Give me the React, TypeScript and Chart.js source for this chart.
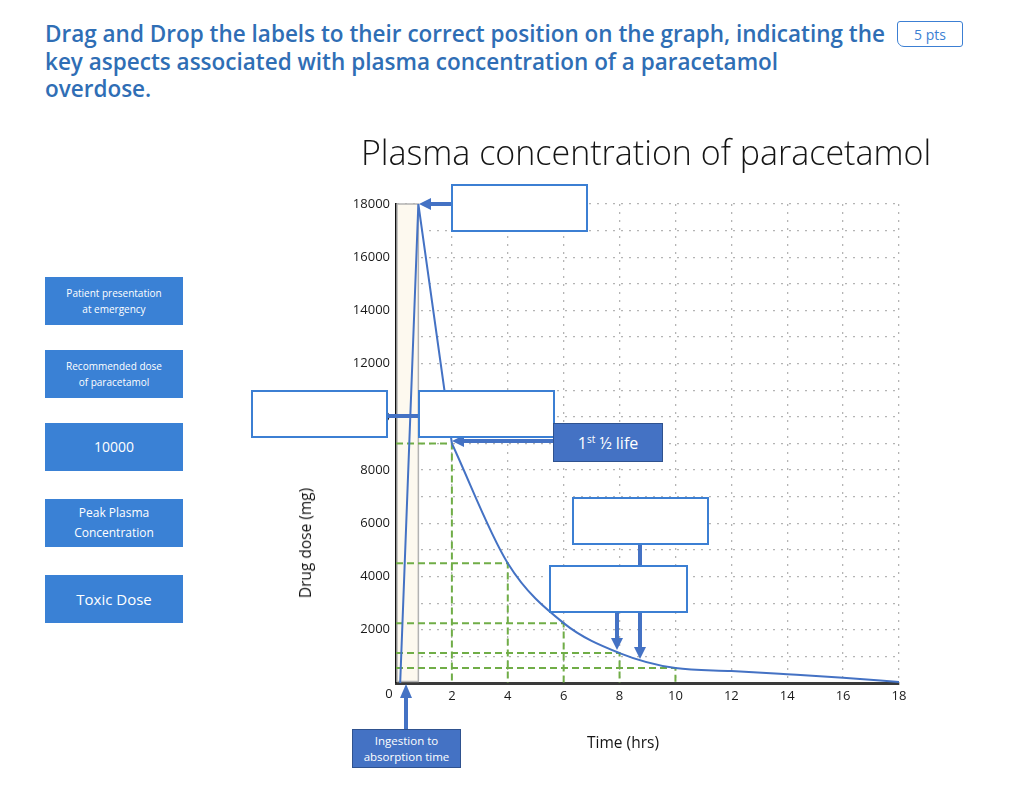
import React, { useEffect, useRef } from "react";
import { Chart, registerables } from "chart.js";

Chart.register(...registerables);

// ---------- data ----------
const chartTitle = "Plasma concentration of paracetamol";
const xAxisTitle = "Time (hrs)";
const yAxisTitle = "Drug dose (mg)";

const curveTimes = [0.15, 0.8, 2, 4, 6, 8, 10, 12, 14, 16, 18];
const curveDose = [0, 18000, 9000, 4500, 2250, 1125, 560, 450, 330, 200, 40];
const firstHalfLifeIndex = 2;

const halfLifeTimes = [2, 4, 6, 8, 10];
const halfLifeDose = [9000, 4500, 2250, 1125, 560];

const absorptionWindow = [0, 0.8];

const xTickStep = 2;
const yTickStep = 1000;
const yTickLabels = [2000, 4000, 6000, 8000, 10000, 12000, 14000, 16000, 18000];
const originLabel = "0";

const headerLines = [
  "Drag and Drop the labels to their correct position on the graph, indicating the",
  "key aspects associated with plasma concentration of a paracetamol",
  "overdose.",
];
const pointsLabel = "5 pts";
const answerLabels = [
  ["Patient presentation", "at emergency"],
  ["Recommended dose", "of paracetamol"],
  ["10000"],
  ["Peak Plasma", "Concentration"],
  ["Toxic Dose"],
];
const ingestionLabel = ["Ingestion to", "absorption time"];

// ---------- styles ----------
const BLUE = "#4472C4";
const GREEN = "#70AD47";
const DROP_BORDER = "#3C7FD3";
const LABEL_BG = "#3A81D5";
const FONT = "'Open Sans', 'Noto Sans', sans-serif";
const GRID = "#b4b4b4";

const absorptionPlugin = {
  id: "absorptionWindow",
  beforeDatasetsDraw(chart: any) {
    const { ctx, scales } = chart;
    const x = scales.x;
    const y = scales.y;
    const x0 = x.getPixelForValue(absorptionWindow[0]) + 1;
    const x1 = x.getPixelForValue(absorptionWindow[1]);
    const yTop = y.getPixelForValue(y.max);
    const yBot = y.getPixelForValue(0) - 1.5;
    ctx.save();
    ctx.fillStyle = "#FDF9EF";
    ctx.fillRect(x0, yTop, x1 - x0, yBot - yTop);
    ctx.strokeStyle = "#B3B3B3";
    ctx.lineWidth = 1.5;
    ctx.strokeRect(x0, yTop, x1 - x0, yBot - yTop);
    ctx.restore();
  },
  afterDraw(chart: any) {
    const { ctx, scales } = chart;
    const px = scales.x.getPixelForValue(0) - 7;
    const py = scales.y.getPixelForValue(0) + 11;
    ctx.save();
    ctx.fillStyle = "#1a1a1a";
    ctx.font = `13px ${FONT}`;
    ctx.textAlign = "center";
    ctx.textBaseline = "middle";
    ctx.fillText(originLabel, px, py);
    ctx.restore();
  },
};

function Arrow({ x1, y1, x2, y2, w = 4, head = 12, headW = 12 }: any) {
  const dx = x2 - x1;
  const dy = y2 - y1;
  const len = Math.hypot(dx, dy);
  const ux = dx / len;
  const uy = dy / len;
  const bx = x2 - ux * head;
  const by = y2 - uy * head;
  const px = -uy;
  const py = ux;
  return (
    <g>
      <line x1={x1} y1={y1} x2={bx} y2={by} stroke={BLUE} strokeWidth={w} />
      <polygon
        points={`${x2},${y2} ${bx + (px * headW) / 2},${by + (py * headW) / 2} ${bx - (px * headW) / 2},${by - (py * headW) / 2}`}
        fill={BLUE}
      />
    </g>
  );
}

function DropBox({ left, top, width, height }: any) {
  return (
    <div
      style={{
        position: "absolute",
        left,
        top,
        width,
        height,
        boxSizing: "border-box",
        border: `2px solid ${DROP_BORDER}`,
        background: "#fff",
      }}
    />
  );
}

export default function App() {
  const canvasRef = useRef<HTMLCanvasElement | null>(null);

  useEffect(() => {
    const canvas = canvasRef.current;
    if (!canvas) return;

    const pts = curveTimes.map((t, i) => ({ x: t, y: curveDose[i] }));
    const rise = pts.slice(0, firstHalfLifeIndex + 1);
    const decay = pts.slice(firstHalfLifeIndex);

    const halfLifeSets = halfLifeTimes.map((t, i) => ({
      label: `half-life ${i + 1}`,
      data: [
        { x: 0, y: halfLifeDose[i] },
        { x: t, y: halfLifeDose[i] },
        { x: t, y: 0 },
      ],
      borderColor: GREEN,
      borderWidth: 2,
      borderDash: [7, 4],
      pointRadius: 0,
      tension: 0,
      fill: false,
    }));

    const chart = new Chart(canvas, {
      type: "line",
      data: {
        datasets: [
          {
            label: "absorption",
            data: rise,
            borderColor: BLUE,
            borderWidth: 2,
            pointRadius: 0,
            tension: 0,
            fill: false,
          },
          {
            label: "elimination",
            data: decay,
            borderColor: BLUE,
            borderWidth: 2,
            pointRadius: 0,
            cubicInterpolationMode: "monotone",
            fill: false,
          },
          ...halfLifeSets,
        ],
      },
      options: {
        responsive: false,
        animation: false,
        devicePixelRatio: 1,
        layout: { padding: { top: 204, left: 0, right: 125, bottom: 74 } },
        plugins: {
          legend: { display: false },
          tooltip: { enabled: false },
          title: { display: false },
        },
        scales: {
          x: {
            type: "linear",
            min: 0,
            max: 18,
            ticks: {
              stepSize: xTickStep,
              color: "#1a1a1a",
              font: { family: FONT, size: 13 },
              padding: 5,
              maxRotation: 0,
              autoSkip: false,
              callback: (v: any) => (Number(v) === 0 ? "" : String(v)),
            },
            grid: { color: GRID, drawTicks: false, lineWidth: 1.3 },
            border: { color: "#3a3a3a", width: 3, dash: [2, 6] },
            afterFit: (s: any) => {
              s.height = 30;
            },
          },
          y: {
            type: "linear",
            min: 0,
            max: 18000,
            ticks: {
              stepSize: yTickStep,
              autoSkip: false,
              color: "#1a1a1a",
              font: { family: FONT, size: 13 },
              padding: 6,
              callback: (v: any) => (yTickLabels.includes(Number(v)) ? String(v) : ""),
            },
            grid: { color: GRID, drawTicks: false, lineWidth: 1.3 },
            border: { color: "#111", width: 2, dash: [2, 6] },
            afterFit: (s: any) => {
              s.width = 396;
            },
          },
        },
      },
      plugins: [absorptionPlugin],
    } as any);

    return () => chart.destroy();
  }, []);

  const labelTops = [277, 350, 423, 499, 575];
  const labelSizes = [10, 10, 14, 12, 15];
  const labelLineHeights = [16.5, 16.5, 20, 20, 20];

  return (
    <div
      style={{
        position: "absolute",
        left: 0,
        top: 0,
        width: 1024,
        height: 787,
        overflow: "hidden",
        background: "#fff",
        fontFamily: FONT,
      }}
    >
      {/* header */}
      <div
        style={{
          position: "absolute",
          left: 45,
          top: 20,
          fontSize: 22.5,
          fontWeight: 600,
          lineHeight: "27.5px",
          color: "#2F6EB5",
          whiteSpace: "nowrap",
        }}
      >
        {headerLines.map((l, i) => (
          <div key={i}>{l}</div>
        ))}
      </div>
      <div
        style={{
          position: "absolute",
          left: 897,
          top: 21,
          width: 66,
          height: 26,
          boxSizing: "border-box",
          border: `1.5px solid ${DROP_BORDER}`,
          borderRadius: "3px 3px 3px 7px",
          color: DROP_BORDER,
          fontSize: 14,
          display: "flex",
          alignItems: "center",
          justifyContent: "center",
        }}
      >
        {pointsLabel}
      </div>

      {/* answer labels */}
      {answerLabels.map((lines, i) => (
        <div
          key={i}
          style={{
            position: "absolute",
            left: 45,
            top: labelTops[i],
            width: 138,
            height: 48,
            background: LABEL_BG,
            color: "#fff",
            fontSize: labelSizes[i],
            lineHeight: `${labelLineHeights[i]}px`,
            display: "flex",
            flexDirection: "column",
            alignItems: "center",
            justifyContent: "center",
            textAlign: "center",
          }}
        >
          {lines.map((l, j) => (
            <div key={j}>{l}</div>
          ))}
        </div>
      ))}

      <canvas
        ref={canvasRef}
        width={1024}
        height={787}
        style={{ position: "absolute", left: 0, top: 0, width: 1024, height: 787 }}
      />

      {/* chart title */}
      <div
        style={{
          position: "absolute",
          left: 646,
          top: 152,
          transform: "translate(-50%, -50%)",
          fontSize: 34,
          fontWeight: 300,
          color: "#151515",
          whiteSpace: "nowrap",
          lineHeight: "42px",
        }}
      >
        {chartTitle}
      </div>

      {/* axis titles */}
      <div
        style={{
          position: "absolute",
          left: 305,
          top: 543,
          transform: "translate(-50%, -50%) rotate(-90deg)",
          fontSize: 15.5,
          color: "#151515",
          whiteSpace: "nowrap",
        }}
      >
        {yAxisTitle}
      </div>
      <div
        style={{
          position: "absolute",
          left: 623,
          top: 742,
          transform: "translate(-50%, -50%)",
          fontSize: 15.5,
          color: "#151515",
          whiteSpace: "nowrap",
        }}
      >
        {xAxisTitle}
      </div>

      {/* arrows and connectors */}
      <svg
        width={1024}
        height={787}
        style={{ position: "absolute", left: 0, top: 0, pointerEvents: "none" }}
      >
        <Arrow x1={452} y1={204} x2={419} y2={204} />
        <Arrow x1={554} y1={441} x2={452} y2={441} />
        <Arrow x1={406} y1={729} x2={406} y2={684} head={14} />
        <Arrow x1={617} y1={612} x2={617} y2={650} />
        <Arrow x1={640} y1={612} x2={640} y2={659} />
        <line x1={640} y1={544} x2={640} y2={566} stroke={BLUE} strokeWidth={4} />
        <line x1={386} y1={416} x2={419} y2={416} stroke={BLUE} strokeWidth={4} />
      </svg>

      {/* drop boxes */}
      <DropBox left={451} top={184} width={137} height={48} />
      <DropBox left={251} top={390} width={137} height={48} />
      <DropBox left={418} top={390} width={137} height={48} />
      <DropBox left={572} top={497} width={137} height={48} />
      <DropBox left={549} top={565} width={139} height={48} />

      {/* filled annotation boxes */}
      <div
        style={{
          position: "absolute",
          left: 553,
          top: 423,
          width: 110,
          height: 39,
          boxSizing: "border-box",
          background: BLUE,
          border: "1px solid #2F528F",
          color: "#fff",
          fontSize: 16,
          display: "flex",
          alignItems: "center",
          justifyContent: "center",
        }}
      >
        <span>
          1<sup style={{ fontSize: 10, verticalAlign: "6px" }}>st</sup> ½ life
        </span>
      </div>
      <div
        style={{
          position: "absolute",
          left: 352,
          top: 729,
          width: 109,
          height: 39,
          boxSizing: "border-box",
          background: BLUE,
          border: "1px solid #2F528F",
          color: "#fff",
          fontSize: 11.5,
          lineHeight: "16px",
          display: "flex",
          flexDirection: "column",
          alignItems: "center",
          justifyContent: "center",
        }}
      >
        {ingestionLabel.map((l, i) => (
          <div key={i}>{l}</div>
        ))}
      </div>
    </div>
  );
}
